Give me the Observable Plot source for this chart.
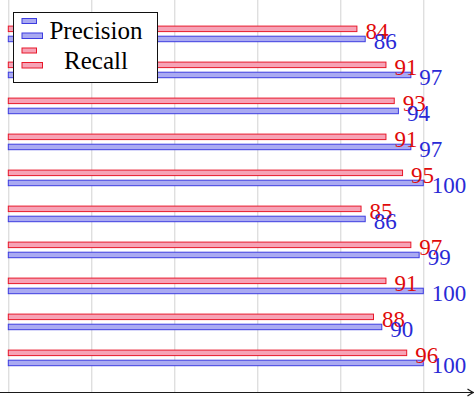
<!DOCTYPE html>
<html>
<head>
<meta charset="utf-8">
<script src="https://cdn.jsdelivr.net/npm/d3@7"></script>
<script src="https://cdn.jsdelivr.net/npm/@observablehq/plot@0.6"></script>
<style>
  html, body { margin: 0; padding: 0; background: #fff; }
  #wrap { position: relative; width: 474px; height: 397px; }
  #legend { position: absolute; left: 13px; top: 12px; }
</style>
</head>
<body>
<div id="wrap"></div>
<script>
// ---- data ----
const groups = ["G1","G2","G3","G4","G5","G6","G7","G8","G9","G10"];
const precision = [86, 97, 94, 97, 100, 86, 99, 100, 90, 100];
const recall    = [84, 91, 93, 91, 95, 85, 97, 91, 88, 96];
const seriesNames = ["Precision", "Recall"];
const xTicks = [0, 20, 40, 60, 80, 100];

// colors
const redStroke = "#e8182a", redFill = "#f6a3b6", redText = "#e00a0a";
const blueStroke = "#3d3de0", blueFill = "#aaaaf2", blueText = "#2a2ad6";

const recData = groups.map((g, i) => ({group: g, value: recall[i]}));
const preData = groups.map((g, i) => ({group: g, value: precision[i]}));

const arrowHead = {
  draw(ctx, size) {
    ctx.moveTo(-6, -3.5);
    ctx.quadraticCurveTo(-2, -0.8, 0, 0);
    ctx.quadraticCurveTo(-2, 0.8, -6, 3.5);
  }
};

const font = "'Liberation Serif', 'Times New Roman', serif";

const chart = Plot.plot({
  width: 474,
  height: 397,
  marginTop: 0,
  marginBottom: 5,
  marginLeft: 0,
  marginRight: 0,
  style: {fontFamily: font, background: "#fff"},
  x: {domain: [0, 100], range: [8.3, 423.3], axis: null},
  y: {domain: groups, range: [16.3, 376.5], padding: 0, axis: null},
  marks: [
    Plot.ruleX(xTicks, {stroke: "#d2d2d2", strokeWidth: 1}),
    Plot.barX(recData, {x: "value", y: "group", fill: redFill, stroke: redStroke, strokeWidth: 1, insetTop: 10.1, insetBottom: 20.4}),
    Plot.barX(preData, {x: "value", y: "group", fill: blueFill, stroke: blueStroke, strokeWidth: 1, insetTop: 20.2, insetBottom: 10.3}),
    Plot.text(recData, {x: "value", y: "group", text: d => String(d.value), textAnchor: "start", dx: 8, dy: -2.5, fill: redText, fontSize: 23, fontFamily: font}),
    Plot.text(preData, {x: "value", y: "group", text: d => String(d.value), textAnchor: "start", dx: 8, dy: 7.5, fill: blueText, fontSize: 23, fontFamily: font}),
    Plot.frame({anchor: "bottom", stroke: "#1a1a1a", strokeWidth: 1.2}),
    Plot.dot([0], {frameAnchor: "bottom-right", dx: -1, symbol: arrowHead, fill: "none", stroke: "#1a1a1a", strokeWidth: 1.2, r: 4})
  ]
});

const wrap = document.getElementById("wrap");
wrap.appendChild(chart);

// ---- legend (overlay) ----
const lw = 145, lh = 71;
const leg = d3.create("svg")
  .attr("id", "legend")
  .attr("width", lw).attr("height", lh)
  .style("position", "absolute").style("left", "13px").style("top", "12px");
leg.append("rect").attr("x", 0.5).attr("y", 0.5).attr("width", lw - 1).attr("height", lh - 1)
  .attr("fill", "#fff").attr("stroke", "#111").attr("stroke-width", 1);
const entries = [
  {name: seriesNames[0], fill: blueFill, stroke: blueStroke},
  {name: seriesNames[1], fill: redFill, stroke: redStroke}
];
entries.forEach((e, i) => {
  const oy = i * 29.5;
  const g = leg.append("g").attr("transform", `translate(0,${oy})`);
  g.append("rect").attr("x", 9).attr("y", 6.5).attr("width", 14.5).attr("height", 5)
    .attr("fill", e.fill).attr("stroke", e.stroke);
  g.append("rect").attr("x", 9).attr("y", 21).attr("width", 20.5).attr("height", 5.5)
    .attr("fill", e.fill).attr("stroke", e.stroke);
  g.append("text").attr("x", 83).attr("y", 27).attr("text-anchor", "middle")
    .attr("font-family", font).attr("font-size", 25).attr("fill", "#000")
    .text(e.name);
});
wrap.appendChild(leg.node());
</script>
</body>
</html>
